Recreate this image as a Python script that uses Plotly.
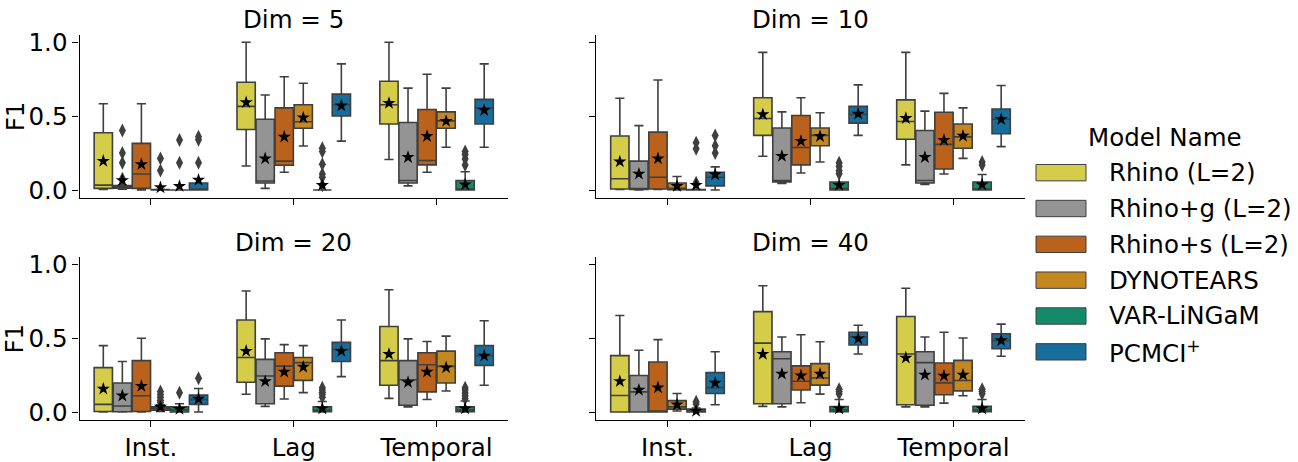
import plotly.graph_objects as go

# ---------------- data ----------------
MODELS = ["Rhino (L=2)", "Rhino+g (L=2)", "Rhino+s (L=2)", "DYNOTEARS", "VAR-LiNGaM", "PCMCI<sup>+</sup>"]
COLORS = ["#d5cd4a", "#949494", "#ba611b", "#c38820", "#158a6a", "#176d9c"]
CATEGORIES = ["Inst.", "Lag", "Temporal"]
PANEL_TITLES = ["Dim = 5", "Dim = 10", "Dim = 20", "Dim = 40"]
Y_TICKS = [0.0, 0.5, 1.0]
Y_TICK_TEXT = ["0.0", "0.5", "1.0"]
Y_LABEL = "F1"
LEGEND_TITLE = "Model Name"

# each array: [model][category]
D5_LO = [[0.004, 0.163, 0.207], [0.005, 0.011, 0.028], [0.0, 0.12, 0.12], [0.0, 0.298, 0.29], [0.0, 0.0, 0.0], [0.0, 0.331, 0.29]]
D5_Q1 = [[0.011, 0.41, 0.447], [0.012, 0.048, 0.048], [0.011, 0.168, 0.17], [0.0, 0.418, 0.418], [0.0, 0.0, 0.0], [0.0, 0.501, 0.447]]
D5_MED = [[0.033, 0.566, 0.577], [0.025, 0.061, 0.065], [0.109, 0.196, 0.2], [0.0, 0.462, 0.468], [0.0, 0.0, 0.0], [0.0, 0.577, 0.556]]
D5_Q3 = [[0.388, 0.73, 0.736], [0.03, 0.479, 0.457], [0.316, 0.556, 0.545], [0.004, 0.577, 0.529], [0.0, 0.0, 0.065], [0.048, 0.649, 0.614]]
D5_HI = [[0.584, 1.0, 1.0], [0.035, 0.643, 0.69], [0.584, 0.767, 0.784], [0.005, 0.723, 0.69], [0.0, 0.0, 0.124], [0.048, 0.854, 0.854]]
D5_MEAN = [[0.196, 0.593, 0.588], [0.065, 0.213, 0.222], [0.174, 0.36, 0.364], [0.017, 0.49, 0.466], [0.026, 0.033, 0.037], [0.068, 0.571, 0.54]]
D5_OUT = [[[], [], []], [[0.403, 0.25, 0.185, 0.076], [], []], [[], [], []], [[0.213, 0.133], [], []],
          [[0.338, 0.185], [0.283, 0.261, 0.174, 0.109, 0.087, 0.033], [0.26, 0.24, 0.21, 0.17]], [[0.36, 0.34, 0.185], [], []]]

D10_LO = [[0.004, 0.229, 0.17], [0.0, 0.044, 0.037], [0.004, 0.115, 0.109], [0.0, 0.19, 0.214], [0.0, 0.0, 0.0], [0.0, 0.37, 0.294]]
D10_Q1 = [[0.007, 0.37, 0.344], [0.004, 0.054, 0.048], [0.007, 0.17, 0.142], [0.002, 0.30, 0.283], [0.0, 0.0, 0.0], [0.028, 0.453, 0.381]]
D10_MED = [[0.076, 0.484, 0.464], [0.007, 0.065, 0.065], [0.087, 0.288, 0.309], [0.011, 0.37, 0.36], [0.0, 0.01, 0.0], [0.087, 0.512, 0.479]]
D10_Q3 = [[0.366, 0.625, 0.61], [0.196, 0.42, 0.403], [0.392, 0.505, 0.527], [0.048, 0.42, 0.447], [0.003, 0.054, 0.054], [0.12, 0.566, 0.549]]
D10_HI = [[0.621, 0.932, 0.932], [0.436, 0.529, 0.534], [0.745, 0.625, 0.654], [0.092, 0.523, 0.556], [0.005, 0.054, 0.105], [0.157, 0.712, 0.708]]
D10_MEAN = [[0.192, 0.512, 0.486], [0.109, 0.229, 0.222], [0.213, 0.331, 0.338], [0.026, 0.364, 0.366], [0.033, 0.033, 0.037], [0.105, 0.516, 0.479]]
D10_OUT = [[[], [], []], [[], [], []], [[], [], []], [[], [], []],
           [[0.32, 0.28, 0.05], [0.185, 0.16, 0.13, 0.11], [0.19, 0.17]], [[0.37, 0.30, 0.25], [], []]]

D20_LO = [[0.0, 0.121, 0.093], [0.0, 0.039, 0.035], [0.0, 0.089, 0.085], [0.004, 0.132, 0.143], [0.0, 0.0, 0.0], [0.0, 0.241, 0.182]]
D20_Q1 = [[0.004, 0.202, 0.182], [0.002, 0.056, 0.046], [0.004, 0.176, 0.137], [0.013, 0.215, 0.197], [0.0, 0.002, 0.002], [0.052, 0.343, 0.317]]
D20_MED = [[0.052, 0.371, 0.349], [0.041, 0.245, 0.219], [0.111, 0.312, 0.321], [0.024, 0.336, 0.31], [0.015, 0.013, 0.013], [0.085, 0.425, 0.382]]
D20_Q3 = [[0.302, 0.625, 0.581], [0.197, 0.358, 0.349], [0.349, 0.403, 0.403], [0.035, 0.371, 0.414], [0.035, 0.035, 0.035], [0.115, 0.473, 0.451]]
D20_HI = [[0.451, 0.822, 0.831], [0.343, 0.497, 0.497], [0.501, 0.458, 0.479], [0.05, 0.451, 0.516], [0.056, 0.072, 0.075], [0.16, 0.625, 0.62]]
D20_MEAN = [[0.158, 0.414, 0.393], [0.111, 0.208, 0.202], [0.176, 0.273, 0.273], [0.035, 0.306, 0.302], [0.02, 0.024, 0.024], [0.089, 0.414, 0.382]]
D20_OUT = [[[], [], []], [[], [], []], [[], [], []], [[0.14, 0.12, 0.10, 0.08, 0.065], [], []],
           [[0.132], [0.165, 0.15, 0.135, 0.12, 0.10], [0.165, 0.15, 0.13, 0.11, 0.09]], [[0.23], [], []]]

D40_LO = [[0.0, 0.039, 0.035], [0.0, 0.035, 0.035], [0.0, 0.063, 0.061], [0.007, 0.122, 0.111], [0.0, 0.0, 0.0], [0.05, 0.394, 0.379]]
D40_Q1 = [[0.0, 0.057, 0.05], [0.0, 0.057, 0.046], [0.0, 0.15, 0.118], [0.02, 0.183, 0.144], [0.0, 0.002, 0.002], [0.126, 0.455, 0.431]]
D40_MED = [[0.113, 0.468, 0.394], [0.137, 0.362, 0.336], [0.002, 0.209, 0.198], [0.035, 0.231, 0.214], [0.005, 0.015, 0.015], [0.166, 0.51, 0.486]]
D40_Q3 = [[0.383, 0.682, 0.649], [0.248, 0.41, 0.41], [0.34, 0.314, 0.333], [0.078, 0.329, 0.351], [0.02, 0.037, 0.04], [0.268, 0.542, 0.532]]
D40_HI = [[0.656, 0.858, 0.841], [0.42, 0.51, 0.51], [0.492, 0.525, 0.542], [0.126, 0.477, 0.503], [0.028, 0.085, 0.085], [0.41, 0.59, 0.597]]
D40_MEAN = [[0.209, 0.394, 0.368], [0.15, 0.259, 0.253], [0.166, 0.248, 0.246], [0.05, 0.259, 0.253], [0.007, 0.024, 0.024], [0.198, 0.499, 0.486]]
D40_OUT = [[[], [], []], [[], [], []], [[], [], []], [[], [], []],
           [[0.07, 0.055], [0.155, 0.14, 0.125], [0.155, 0.14, 0.125]], [[], [], []]]

PANELS = [
    (D5_LO, D5_Q1, D5_MED, D5_Q3, D5_HI, D5_MEAN, D5_OUT),
    (D10_LO, D10_Q1, D10_MED, D10_Q3, D10_HI, D10_MEAN, D10_OUT),
    (D20_LO, D20_Q1, D20_MED, D20_Q3, D20_HI, D20_MEAN, D20_OUT),
    (D40_LO, D40_Q1, D40_MED, D40_Q3, D40_HI, D40_MEAN, D40_OUT),
]

# ---------------- layout geometry ----------------
W, H = 1298, 462
FONT = "DejaVu Sans"
FS = 24.5
EDGE = "#3f3f3f"
# pixel boxes of the four panels: (left, right, top, bottom)
BOXES = [(79.5, 508, 29, 198), (596, 1025, 29, 198), (79.5, 508, 260, 428.5), (596, 1025, 260, 428.5)]


def fx(p):
    return p / W


def fy(p):
    return 1 - p / H


n_models = len(MODELS)
slot = 0.8 / n_models
fig = go.Figure()
layout = dict(width=W, height=H, margin=dict(l=0, r=0, t=0, b=0), paper_bgcolor="white",
              plot_bgcolor="white", showlegend=False, font=dict(family=FONT, size=FS, color="black"))
annotations = []
shapes = []

for p, (lo, q1, med, q3, hi, mean, out) in enumerate(PANELS):
    sfx = "" if p == 0 else str(p + 1)
    xa, ya = "x" + sfx, "y" + sfx
    for k in range(n_models):
        off = -0.4 + slot * (k + 0.5)
        xs = [c + off for c in range(len(CATEGORIES))]
        fig.add_trace(go.Box(x=xs, q1=q1[k], median=med[k], q3=q3[k], lowerfence=lo[k], upperfence=hi[k],
                             width=slot * 0.96, fillcolor=COLORS[k], line=dict(color=EDGE, width=1.6),
                             whiskerwidth=0.5, boxpoints=False, xaxis=xa, yaxis=ya, hoverinfo="skip"))
        ox, oy = [], []
        for c in range(len(CATEGORIES)):
            for v in out[k][c]:
                ox.append(c + off)
                oy.append(v)
        if ox:
            fig.add_trace(go.Scatter(x=ox, y=oy, mode="markers", xaxis=xa, yaxis=ya, hoverinfo="skip",
                                     marker=dict(symbol="diamond-tall", size=10, color=EDGE)))
        fig.add_trace(go.Scatter(x=xs, y=mean[k], mode="markers", xaxis=xa, yaxis=ya, hoverinfo="skip",
                                 marker=dict(symbol="star", size=10, color="black", line=dict(width=0))))

    l, r, t, b = BOXES[p]
    bottom_row = p >= 2
    left_col = p % 2 == 0
    layout["xaxis" + sfx] = dict(domain=[fx(l), fx(r)], anchor=ya, range=[-0.5, 2.5],
                                 tickvals=[0, 1, 2], ticktext=CATEGORIES, showticklabels=bottom_row,
                                 ticks="outside", ticklen=6, tickwidth=1.2, tickcolor="black",
                                 showline=True, linecolor="black", linewidth=1.2, showgrid=False,
                                 zeroline=False, tickfont=dict(size=FS))
    layout["yaxis" + sfx] = dict(domain=[fy(b), fy(t)], anchor=xa, range=[-0.052, 1.05],
                                 tickvals=Y_TICKS, ticktext=Y_TICK_TEXT, showticklabels=left_col,
                                 ticks="outside", ticklen=6, tickwidth=1.2, tickcolor="black",
                                 showline=True, linecolor="black", linewidth=1.2, showgrid=False,
                                 zeroline=False, tickfont=dict(size=FS))
    annotations.append(dict(text=PANEL_TITLES[p], x=fx((l + r) / 2), y=fy(t - 16), xref="paper", yref="paper",
                            xanchor="center", yanchor="middle", showarrow=False, font=dict(size=FS)))
    if left_col:
        annotations.append(dict(text=Y_LABEL, x=fx(15), y=fy((t + b) / 2), xref="paper", yref="paper",
                                xanchor="center", yanchor="middle", textangle=-90, showarrow=False,
                                font=dict(size=FS)))

# legend drawn as patches + text
annotations.append(dict(text=LEGEND_TITLE, x=fx(1165), y=fy(135), xref="paper", yref="paper",
                        xanchor="center", yanchor="middle", showarrow=False, font=dict(size=FS)))
for k in range(n_models):
    cy = 172 + 37.2 * k
    shapes.append(dict(type="rect", xref="paper", yref="paper", x0=fx(1036), x1=fx(1086),
                       y0=fy(cy + 8.5), y1=fy(cy - 8.5), fillcolor=COLORS[k], line=dict(color=EDGE, width=1)))
    annotations.append(dict(text=MODELS[k], x=fx(1107), y=fy(cy), xref="paper", yref="paper",
                            xanchor="left", yanchor="middle", showarrow=False, font=dict(size=FS)))

layout["annotations"] = annotations
layout["shapes"] = shapes
fig.update_layout(**layout)
fig.write_html("out.html", config={"displayModeBar": False},
               post_script="document.body.style.margin='0px';document.body.style.overflow='hidden';")
